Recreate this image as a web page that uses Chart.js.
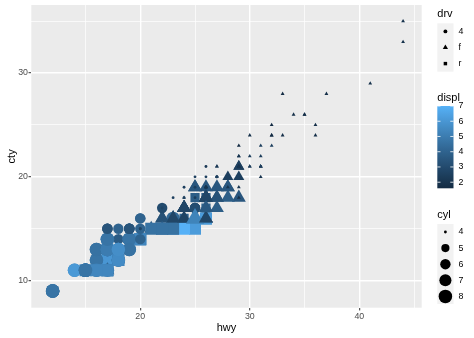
<!DOCTYPE html>
<html>
<head>
<meta charset="utf-8">
<script src="https://cdn.jsdelivr.net/npm/chart.js@4.4.0/dist/chart.umd.min.js"></script>
<style>
  html, body { margin: 0; padding: 0; background: #fff; }
</style>
</head>
<body>
<canvas id="chart" width="474" height="338"></canvas>
<script>
// mpg: one entry per car, in data order
const hwy = [29,29,31,30,26,26,27,26,25,28,27,25,25,25,25,24,25,23,
  20,15,20,17,17,26,23,26,25,24,19,14,15,17,27,30,26,29,26,
  24,24,22,22,24,24,17,22,21,23,23,
  19,18,17,17,19,19,12,17,15,
  17,17,12,17,16,18,15,
  16,12,17,17,16,12,15,16,17,15,
  17,17,18,
  17,19,17,19,19,17,
  17,17,16,16,17,15,17,
  26,25,26,24,21,22,23,22,20,
  33,32,32,29,32,34,36,36,29,
  26,27,30,31,26,26,28,
  26,29,28,27,24,24,24,
  22,19,20,17,12,19,18,14,
  15,18,18,15,
  17,16,18,
  17,19,19,17,
  29,27,31,32,27,26,26,25,25,
  17,17,20,18,
  26,26,27,28,25,
  25,24,27,25,26,23,
  26,26,26,26,27,25,24,27,
  20,20,19,17,20,17,
  29,27,31,31,26,26,28,
  27,29,31,31,26,26,27,
  30,33,35,37,35,
  15,18,
  20,20,22,17,19,18,20,
  29,26,29,29,24,
  44,29,26,29,29,29,29,23,24,
  44,41,29,26,28,29,
  29,29,28,29,26,26,26];

const cty = [18,21,20,21,16,18,18,18,16,20,19,15,17,17,15,15,17,16,
  14,11,14,13,12,16,15,16,15,15,14,11,11,14,19,22,18,18,17,
  18,17,16,16,17,17,11,15,15,16,16,
  15,14,13,14,14,14,9,11,11,
  13,13,9,13,11,13,11,
  12,9,13,13,12,9,11,11,13,11,
  11,11,12,
  14,15,14,13,13,13,
  14,14,13,13,13,11,13,
  18,18,17,16,15,15,15,15,14,
  28,24,25,23,24,26,25,24,21,
  18,18,21,21,18,18,19,
  19,19,20,20,17,16,17,
  17,15,15,14,9,14,13,11,
  11,12,12,11,
  11,11,12,
  14,13,13,13,
  21,19,23,23,19,19,18,19,19,
  14,15,14,12,
  18,16,17,18,16,
  18,18,20,19,20,18,
  21,19,19,19,20,20,19,20,
  15,16,15,15,16,14,
  21,21,21,21,18,18,19,
  21,21,21,22,18,18,18,
  24,24,26,28,26,
  11,13,
  15,16,17,15,15,15,16,
  21,19,21,22,17,
  33,21,19,22,21,21,21,16,17,
  35,29,21,19,20,20,
  21,18,19,21,16,18,17];

const displ = [1.8,1.8,2.0,2.0,2.8,2.8,3.1,1.8,1.8,2.0,2.0,2.8,2.8,3.1,3.1,2.8,3.1,4.2,
  5.3,5.3,5.3,5.7,6.0,5.7,5.7,6.2,6.2,7.0,5.3,5.3,5.7,6.5,2.4,2.4,3.1,3.5,3.6,
  2.4,3.0,3.3,3.3,3.3,3.3,3.3,3.8,3.8,3.8,4.0,
  3.7,3.7,3.9,3.9,4.7,4.7,4.7,5.2,5.2,
  3.9,4.7,4.7,4.7,5.2,5.7,5.9,
  4.7,4.7,4.7,4.7,4.7,4.7,5.2,5.2,5.7,5.9,
  4.6,5.4,5.4,
  4.0,4.0,4.0,4.0,4.6,5.0,
  4.2,4.2,4.6,4.6,4.6,5.4,5.4,
  3.8,3.8,4.0,4.0,4.6,4.6,4.6,4.6,5.4,
  1.6,1.6,1.6,1.6,1.6,1.8,1.8,1.8,2.0,
  2.4,2.4,2.4,2.4,2.5,2.5,3.3,
  2.0,2.0,2.0,2.0,2.7,2.7,2.7,
  3.0,3.7,4.0,4.7,4.7,4.7,5.7,6.1,
  4.0,4.2,4.4,4.6,
  5.4,5.4,5.4,
  4.0,4.0,4.6,5.0,
  2.4,2.4,2.5,2.5,3.5,3.5,3.0,3.0,3.5,
  3.3,3.3,4.0,5.6,
  3.1,3.8,3.8,3.8,5.3,
  2.5,2.5,2.5,2.5,2.5,2.5,
  2.2,2.2,2.5,2.5,2.5,2.5,2.5,2.5,
  2.7,2.7,3.4,3.4,4.0,4.7,
  2.2,2.2,2.4,2.4,3.0,3.0,3.5,
  2.2,2.2,2.4,2.4,3.0,3.0,3.3,
  1.8,1.8,1.8,1.8,1.8,
  4.7,5.7,
  2.7,2.7,2.7,3.4,3.4,4.0,4.0,
  2.0,2.0,2.0,2.0,2.8,
  1.9,2.0,2.0,2.0,2.0,2.5,2.5,2.8,2.8,
  1.9,1.9,2.0,2.0,2.5,2.5,
  1.8,1.8,2.0,2.0,2.8,2.8,3.6];

const cyl = [4,4,4,4,6,6,6,4,4,4,4,6,6,6,6,6,6,8,
  8,8,8,8,8,8,8,8,8,8,8,8,8,8,4,4,6,6,6,
  4,6,6,6,6,6,6,6,6,6,6,
  6,6,6,6,8,8,8,8,8,
  6,8,8,8,8,8,8,
  8,8,8,8,8,8,8,8,8,8,
  8,8,8,
  6,6,6,6,8,8,
  6,6,8,8,8,8,8,
  6,6,6,6,8,8,8,8,8,
  4,4,4,4,4,4,4,4,4,
  4,4,4,4,6,6,6,
  4,4,4,4,6,6,6,
  6,6,6,8,8,8,8,8,
  8,8,8,8,
  8,8,8,
  6,6,8,8,
  4,4,4,4,6,6,6,6,6,
  6,6,6,8,
  6,6,6,6,8,
  4,4,4,4,4,4,
  4,4,4,4,4,4,4,4,
  4,4,6,6,6,8,
  4,4,4,4,6,6,6,
  4,4,4,4,6,6,6,
  4,4,4,4,4,
  8,8,
  4,4,4,6,6,6,6,
  4,4,4,4,6,
  4,4,4,4,4,5,5,6,6,
  4,4,4,4,5,5,
  4,4,4,4,6,6,6];

const drv = ('fffffff44444444444' +
  'rrrrrrrrrr4444fffff' +
  'fffffffffff' +
  '44444444444444444444444444' +
  'rrr' +
  '4444444444444' +
  'rrrrrrrrr' +
  'fffffffffffffffffffffff' +
  '444444444444' +
  'rrr' +
  '4444' +
  'fffffffff' +
  '4444' +
  'fffff' +
  '44444444444444444444' +
  'fffffffffffffffffff' +
  '444444444' +
  'fffffffffffffffffffffffffff').split('');

const xTicks = [15, 20, 25, 30, 35, 40, 45];
const xLabels = [20, 30, 40];
const yTicks = [10, 15, 20, 25, 30, 35];
const yLabels = [10, 20, 30];
const drvLevels = ['4', 'f', 'r'];
const displBreaks = [2, 3, 4, 5, 6, 7];
const cylBreaks = [4, 5, 6, 7, 8];

const FONT = '"Liberation Sans", Arial, sans-serif';
Chart.defaults.font.family = FONT;

// ggplot's default continuous colour scale, interpolated in Lab
function hexToRgb(h) { return [1, 3, 5].map(i => parseInt(h.substr(i, 2), 16)); }
function toLin(c) { c /= 255; return c <= 0.04045 ? c / 12.92 : Math.pow((c + 0.055) / 1.055, 2.4); }
function fromLin(c) {
  c = c <= 0.0031308 ? 12.92 * c : 1.055 * Math.pow(c, 1 / 2.4) - 0.055;
  return Math.round(Math.max(0, Math.min(1, c)) * 255);
}
const WX = 0.95047, WZ = 1.08883;
const fl = t => t > 0.008856 ? Math.cbrt(t) : 7.787 * t + 16 / 116;
const flInv = t => t > 0.206893 ? t * t * t : (t - 16 / 116) / 7.787;
function rgbToLab(rgb) {
  const [r, g, b] = rgb.map(toLin);
  const X = (0.4124 * r + 0.3576 * g + 0.1805 * b) / WX;
  const Y = 0.2126 * r + 0.7152 * g + 0.0722 * b;
  const Z = (0.0193 * r + 0.1192 * g + 0.9505 * b) / WZ;
  return [116 * fl(Y) - 16, 500 * (fl(X) - fl(Y)), 200 * (fl(Y) - fl(Z))];
}
function labToRgb([L, a, b]) {
  const fy = (L + 16) / 116, fx = fy + a / 500, fz = fy - b / 200;
  const X = flInv(fx) * WX, Y = flInv(fy), Z = flInv(fz) * WZ;
  const r = 3.2406 * X - 1.5372 * Y - 0.4986 * Z;
  const g = -0.9689 * X + 1.8758 * Y + 0.0415 * Z;
  const bb = 0.0557 * X - 0.2040 * Y + 1.0570 * Z;
  return `rgb(${fromLin(r)},${fromLin(g)},${fromLin(bb)})`;
}
const lowLab = rgbToLab(hexToRgb('#132B43'));
const highLab = rgbToLab(hexToRgb('#56B1F7'));
const dMin = Math.min(...displ), dMax = Math.max(...displ);
function displColor(v) {
  const t = (v - dMin) / (dMax - dMin);
  return labToRgb(lowLab.map((l, i) => l + (highLab[i] - l) * t));
}

// scale_size: area palette, range 1..6
const cMin = Math.min(...cyl), cMax = Math.max(...cyl);
const cylSize = c => 1 + 5 * Math.sqrt((c - cMin) / (cMax - cMin));
const ptRadius = s => 0.375 * (s * 2.845 + 0.945);
const shapeStyle = { '4': 'circle', 'f': 'triangle', 'r': 'rect' };
const shapeScale = { '4': 1, 'f': 1.555, 'r': 1.253 };

const points = hwy.map((h, i) => ({ x: h, y: cty[i], displ: displ[i], cyl: cyl[i], drv: drv[i] }));

function drawShape(ctx, style, x, y, r) {
  ctx.beginPath();
  if (style === 'circle') ctx.arc(x, y, r, 0, Math.PI * 2);
  else if (style === 'triangle') {
    ctx.moveTo(x, y - r);
    ctx.lineTo(x + r * Math.sin(2 * Math.PI / 3), y - r * Math.cos(2 * Math.PI / 3));
    ctx.lineTo(x - r * Math.sin(2 * Math.PI / 3), y - r * Math.cos(2 * Math.PI / 3));
    ctx.closePath();
  } else {
    const s = r * Math.SQRT1_2;
    ctx.rect(x - s, y - s, 2 * s, 2 * s);
  }
  ctx.fill();
}

const panelBg = {
  id: 'panelBg',
  beforeDraw(chart) {
    const { ctx, chartArea: a } = chart;
    ctx.save();
    ctx.fillStyle = '#EBEBEB';
    ctx.fillRect(a.left, a.top, a.right - a.left, a.bottom - a.top);
    ctx.restore();
  }
};

const legends = {
  id: 'legends',
  afterDraw(chart) {
    const ctx = chart.ctx;
    const kx = 437.3, kw = 16.2, cx = kx + kw / 2, lx = 458.5;
    ctx.save();
    ctx.textBaseline = 'middle';
    ctx.textAlign = 'left';
    const title = (t, y) => { ctx.fillStyle = '#000'; ctx.font = '11px ' + FONT; ctx.fillText(t, kx, y); };
    const label = (t, y) => { ctx.fillStyle = '#000'; ctx.font = '8.8px ' + FONT; ctx.fillText(t, lx, y); };

    // drv
    title('drv', 14.3);
    ctx.fillStyle = '#F2F2F2';
    ctx.fillRect(kx, 23.3, kw, 48.4);
    drvLevels.forEach((d, i) => {
      const y = 31.4 + 16.1 * i;
      ctx.fillStyle = '#000';
      drawShape(ctx, shapeStyle[d], cx, y, ptRadius(1.5) * shapeScale[d]);
      label(d, y);
    });

    // displ colour bar
    title('displ', 98);
    const top = 106, bot = 188.3;
    const per = (bot - top) / (dMax - dMin);
    const grad = ctx.createLinearGradient(0, bot, 0, top);
    for (let k = 0; k <= 20; k++) grad.addColorStop(k / 20, displColor(dMin + (dMax - dMin) * k / 20));
    ctx.fillStyle = grad;
    ctx.fillRect(kx, top, kw, bot - top);
    ctx.strokeStyle = '#fff';
    ctx.lineWidth = 0.8;
    displBreaks.forEach(b => {
      const y = bot - (b - dMin) * per;
      ctx.beginPath();
      ctx.moveTo(kx, y); ctx.lineTo(kx + 3.2, y);
      ctx.moveTo(kx + kw - 3.2, y); ctx.lineTo(kx + kw, y);
      ctx.stroke();
      label(String(b), y);
    });

    // cyl
    title('cyl', 215);
    ctx.fillStyle = '#F2F2F2';
    ctx.fillRect(kx, 224, kw, 80);
    cylBreaks.forEach((c, i) => {
      const y = 232 + 16.1 * i;
      ctx.fillStyle = '#000';
      drawShape(ctx, 'circle', cx, y, ptRadius(cylSize(c)));
      label(String(c), y);
    });
    ctx.restore();
  }
};

const tickFont = { family: FONT, size: 8.8, lineHeight: 1 };
const titleFont = { family: FONT, size: 11 };

new Chart(document.getElementById('chart'), {
  type: 'scatter',
  data: {
    datasets: [{
      data: points,
      pointStyle: c => c.raw ? shapeStyle[c.raw.drv] : 'circle',
      pointRadius: c => c.raw ? ptRadius(cylSize(c.raw.cyl)) * shapeScale[c.raw.drv] : 3,
      pointHoverRadius: c => c.raw ? ptRadius(cylSize(c.raw.cyl)) * shapeScale[c.raw.drv] : 3,
      pointBackgroundColor: c => c.raw ? displColor(c.raw.displ) : '#132B43',
      pointBorderWidth: 0
    }]
  },
  options: {
    responsive: false,
    animation: false,
    devicePixelRatio: 1,
    layout: { autoPadding: false, padding: { top: 5, right: 52.3, left: 0, bottom: 0 } },
    plugins: { legend: { display: false }, tooltip: { enabled: false } },
    scales: {
      x: {
        type: 'linear', min: 10.05, max: 45.7,
        afterBuildTicks: s => { s.ticks = xTicks.map(v => ({ value: v })); },
        afterFit: s => { s.height = 30.3; },
        ticks: {
          autoSkip: false, maxRotation: 0, padding: 1.5, color: '#4D4D4D', font: tickFont,
          callback: v => xLabels.includes(v) ? String(v) : ''
        },
        grid: {
          color: '#FFFFFF',
          lineWidth: c => c.tick && xLabels.includes(c.tick.value) ? 1.4 : 0.7,
          tickLength: 2.75,
          tickWidth: 1,
          tickColor: c => c.tick && xLabels.includes(c.tick.value) ? '#333333' : 'rgba(0,0,0,0)'
        },
        border: { display: false },
        title: { display: true, text: 'hwy', color: '#000', font: titleFont, padding: { top: 0, bottom: 3.7 } }
      },
      y: {
        type: 'linear', min: 7.4, max: 36.55,
        afterBuildTicks: s => { s.ticks = yTicks.map(v => ({ value: v })); },
        afterFit: s => { s.width = 31.3; },
        ticks: {
          autoSkip: false, padding: 0.6, color: '#4D4D4D', font: tickFont,
          callback: v => yLabels.includes(v) ? String(v) : ''
        },
        grid: {
          color: '#FFFFFF',
          lineWidth: c => c.tick && yLabels.includes(c.tick.value) ? 1.4 : 0.7,
          tickLength: 2.75,
          tickWidth: 1,
          tickColor: c => c.tick && yLabels.includes(c.tick.value) ? '#333333' : 'rgba(0,0,0,0)'
        },
        border: { display: false },
        title: { display: true, text: 'cty', color: '#000', font: titleFont, padding: { top: 5, bottom: 0 } }
      }
    }
  },
  plugins: [panelBg, legends]
});
</script>
</body>
</html>
